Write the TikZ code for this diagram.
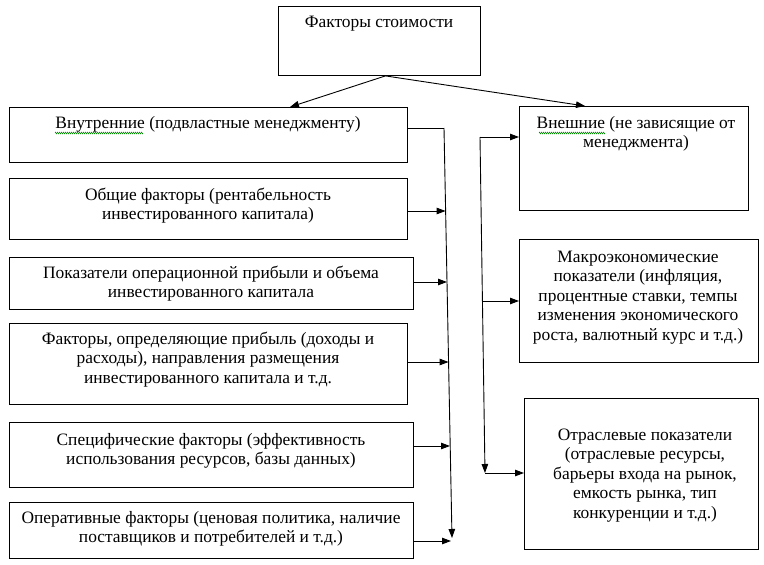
\documentclass[tikz,border=0pt]{standalone}
\usepackage{fontspec}
\setmainfont{Liberation Serif}
\usetikzlibrary{arrows.meta,decorations.pathmorphing}
\begin{document}
\begin{tikzpicture}[x=1pt,y=-1pt,
  box/.style={draw, line width=0.9pt, inner sep=0pt, anchor=north west},
  lbl/.style={anchor=north, align=center, inner sep=0pt, font=\fontsize{17.4}{19.5}\selectfont},
  conn/.style={line width=0.9pt},
  arr/.style={line width=0.9pt, -{Triangle[length=9pt,width=6.5pt]}},
  squig/.style={draw=green!55!black, line width=0.5pt, decorate, decoration={zigzag, amplitude=0.8pt, segment length=2pt}}]
\useasboundingbox (0,0) rectangle (764,565);
\fill[white] (0,0) rectangle (764,565);
% boxes
\node[box, minimum width=202pt, minimum height=69pt] (top) at (278,6) {};
\node[box, minimum width=398pt, minimum height=55pt] (b1) at (9,107) {};
\node[box, minimum width=398pt, minimum height=61pt] (b2) at (9,178) {};
\node[box, minimum width=404pt, minimum height=52pt] (b3) at (9,257) {};
\node[box, minimum width=398pt, minimum height=81pt] (b4) at (9,323) {};
\node[box, minimum width=404pt, minimum height=65pt] (b5) at (9,422) {};
\node[box, minimum width=404pt, minimum height=56pt] (b6) at (9,502) {};
\node[box, minimum width=229pt, minimum height=104pt] (e1) at (519,106) {};
\node[box, minimum width=239pt, minimum height=123pt] (e2) at (519,239) {};
\node[box, minimum width=234pt, minimum height=151pt] (e3) at (524,398) {};
% texts (node top = first baseline - 13.65)
\node[lbl] (ttop) at (379,13.35) {\strut Факторы стоимости};
\node[lbl] (tb1) at (208,114.35) {\strut Внутренние (подвластные менеджменту)};
\node[lbl] (tb2) at (208,186.35) {\strut Общие факторы (рентабельность\\инвестированного капитала)};
\node[lbl] (tb3) at (211,264.35) {\strut Показатели операционной прибыли и объема\\инвестированного капитала};
\node[lbl] (tb4) at (208,330.35) {\strut Факторы, определяющие прибыль (доходы и\\расходы), направления размещения\\инвестированного капитала и т.д.};
\node[lbl] (tb5) at (211,431.35) {\strut Специфические факторы (эффективность\\использования ресурсов, базы данных)};
\node[lbl] (tb6) at (211,509.35) {\strut Оперативные факторы (ценовая политика, наличие\\поставщиков и потребителей и т.д.)};
\node[lbl] (te1) at (636,114.35) {\strut Внешние (не зависящие от\\менеджмента)};
\node[lbl] (te2) at (638,248.35) {\strut Макроэкономические\\показатели (инфляция,\\процентные ставки, темпы\\изменения экономического\\роста, валютный курс и т.д.)};
\node[lbl] (te3) at (645,426.35) {\strut Отраслевые показатели\\(отраслевые ресурсы,\\барьеры входа на рынок,\\емкость рынка, тип\\конкуренции и т.д.)};
% spell-check squiggles
\draw[squig] (55,133) -- (143,133);
\draw[squig] (539,133) -- (605,133);
% top arrows
\coordinate (tl) at (290,107);
\coordinate (tr) at (585,106);
\draw[arr] ([xshift=6pt]top.south) -- (tl);
\draw[arr] ([xshift=6pt]top.south) -- (tr);
% left spine
\coordinate (L0) at (444,128);
\coordinate (L1) at (452,538);
\coordinate (L2) at (445.6,211);
\coordinate (L3) at (447,282);
\coordinate (L4) at (448.6,362);
\coordinate (L5) at (450,446);
\coordinate (L6) at (451,541);
\draw[conn] (b1.east |- L0) -- (L0);
\draw[arr] (L0) -- (L1);
\draw[arr] (b2.east |- L2) -- (L2);
\draw[arr] (b3.east |- L3) -- (L3);
\draw[arr] (b4.east |- L4) -- (L4);
\draw[arr] (b5.east |- L5) -- (L5);
\draw[arr] (b6.east |- L6) -- (L6);
% right spine
\coordinate (R0) at (480,137);
\coordinate (R1) at (485,473);
\coordinate (R2) at (483,301);
\draw[arr] (R0) -- (R1);
\draw[arr] (R0) -- (e1.west |- R0);
\draw[arr] (R2) -- (e2.west |- R2);
\draw[arr] (R1) -- (e3.west |- R1);
\end{tikzpicture}
\end{document}
